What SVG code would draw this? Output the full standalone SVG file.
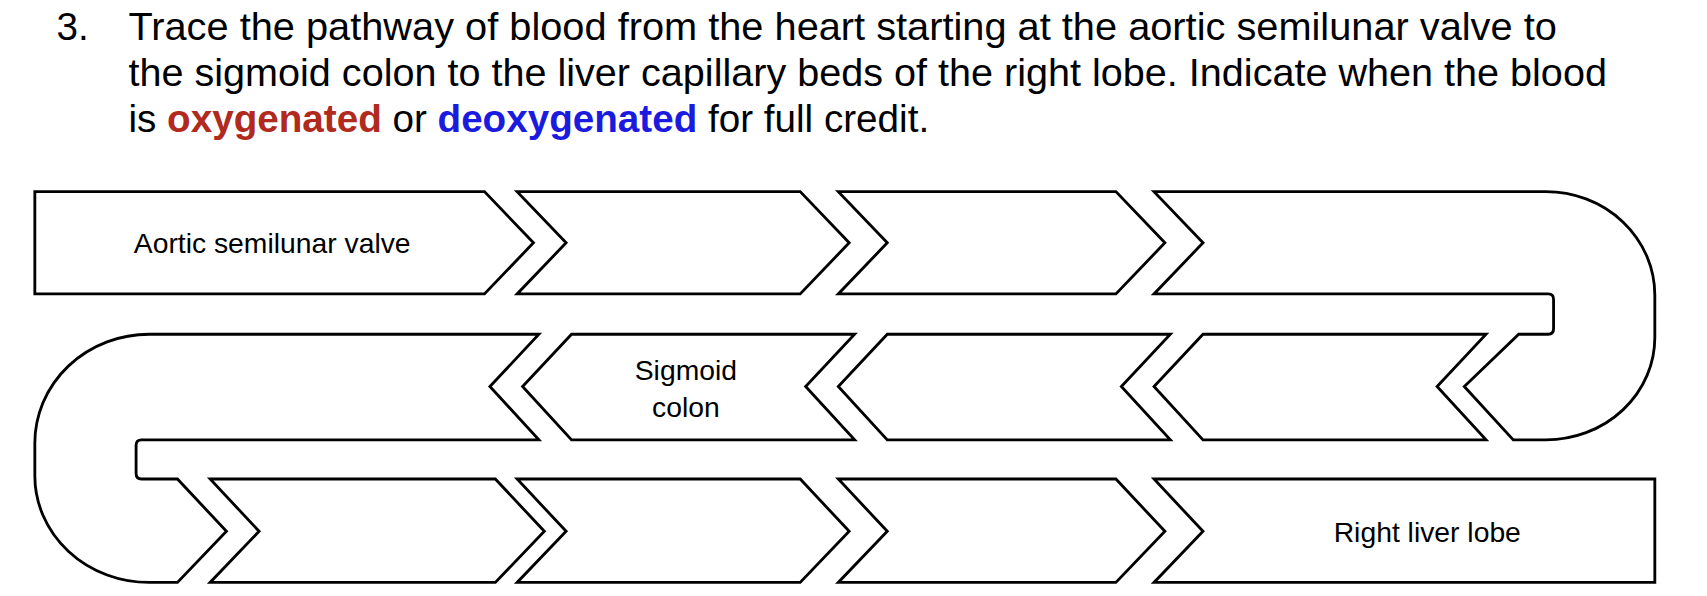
<svg xmlns="http://www.w3.org/2000/svg" width="1707" height="596" viewBox="0 0 1707 596">
<style>
.s{fill:#fff;stroke:#000;stroke-width:2.6;stroke-linejoin:miter}
.t{font-family:"Liberation Sans",Arial,sans-serif;fill:#000}
.h{font-size:35.5px}
.l{font-size:26px;text-anchor:middle}
</style>
<rect width="1707" height="596" fill="#fff"/>
<g transform="scale(1.0887)">
<g id="title" class="t h">
<text x="52" y="37">3.</text>
<text x="118" y="37" textLength="1312" lengthAdjust="spacingAndGlyphs">Trace the pathway of blood from the heart starting at the aortic semilunar valve to</text>
<text x="118" y="79" textLength="1358" lengthAdjust="spacingAndGlyphs">the sigmoid colon to the liver capillary beds of the right lobe. Indicate when the blood</text>
<text x="118" y="121">is <tspan fill="#B02A1E" font-weight="bold">oxygenated</tspan> or <tspan fill="#1B1BE0" font-weight="bold">deoxygenated</tspan> for full credit.</text>
</g>
<g id="connectors"></g>
<g id="n1"><path class="s" d="M32,176 H445 L490,223 L445,270 H32 Z"/><text class="t l" x="250" y="232">Aortic semilunar valve</text></g>
<g id="n2"><path class="s" d="M475,176 H735 L780,223 L735,270 H475 L520,223 Z"/></g>
<g id="n3"><path class="s" d="M770,176 H1025 L1070,223 L1025,270 H770 L815,223 Z"/></g>
<g id="n4"><path class="s" d="M1060,176 H1420 A100,95 0 0 1 1520,271 V310 A100,94 0 0 1 1420,404 H1390 L1345,355 L1395,307 H1422 Q1427,307 1427,302 V275 Q1427,270 1422,270 H1060 L1105,223 Z"/></g>
<g id="n5"><path class="s" d="M1365,307 H1105 L1060,355 L1105,404 H1365 L1320,355 Z"/></g>
<g id="n6"><path class="s" d="M1075,307 H815 L770,355 L815,404 H1075 L1030,355 Z"/></g>
<g id="n7"><path class="s" d="M785,307 H525 L480,355 L525,404 H785 L740,355 Z"/><text class="t l" x="630" y="349">Sigmoid</text><text class="t l" x="630" y="383">colon</text></g>
<g id="n8"><path class="s" d="M495,307 H137 A105,100 0 0 0 32,407 V437 A105,98 0 0 0 137,535 H163 L208,488 L163,440 H130 Q125,440 125,435 V409 Q125,404 130,404 H495 L450,355 Z"/></g>
<g id="n9"><path class="s" d="M193,440 H455 L500,488 L455,535 H193 L238,488 Z"/></g>
<g id="n10"><path class="s" d="M475,440 H735 L780,488 L735,535 H475 L520,488 Z"/></g>
<g id="n11"><path class="s" d="M770,440 H1025 L1070,488 L1025,535 H770 L815,488 Z"/></g>
<g id="n12"><path class="s" d="M1060,440 H1520 V535 H1060 L1105,488 Z"/><text class="t l" x="1311" y="498">Right liver lobe</text></g>
</g>
</svg>
